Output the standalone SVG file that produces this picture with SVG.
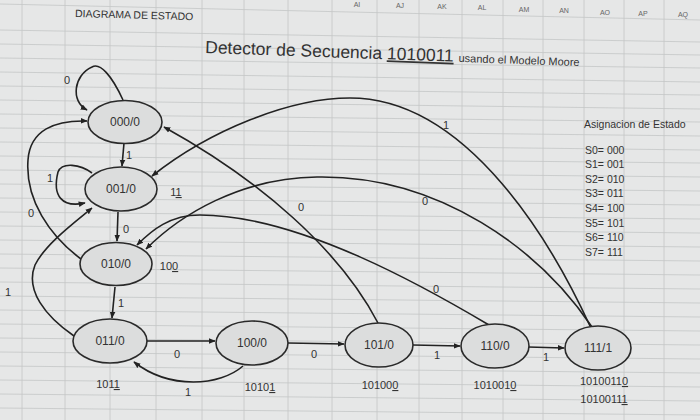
<svg xmlns="http://www.w3.org/2000/svg" width="700" height="420" viewBox="0 0 700 420">
<defs>
<marker id="arr" viewBox="0 0 10 10" refX="9" refY="5" markerWidth="7" markerHeight="7" orient="auto" markerUnits="userSpaceOnUse">
<path d="M0,1 L10,5 L0,9 Z" fill="#222"/>
</marker>
<style>
.bg{fill:#e6e7e7}
.grid line{stroke:#c4c6c6;stroke-width:0.8}
.node ellipse{fill:#dcdddd;stroke:#2a2a2a;stroke-width:1.6}
.node text{font-family:"Liberation Sans",Arial,sans-serif;font-size:12px;fill:#333;text-anchor:middle}
.edges path{fill:none;stroke:#222;stroke-width:1.6;marker-end:url(#arr)}
.lbl{font-family:"Liberation Sans",Arial,sans-serif;font-size:11px;fill:#333;text-anchor:middle}
.seq{font-family:"Liberation Sans",Arial,sans-serif;font-size:11px;fill:#333;text-anchor:middle}
.asg{font-family:"Liberation Sans",Arial,sans-serif;font-size:10.5px;fill:#333}
.hdr{font-family:"Liberation Sans",Arial,sans-serif;font-size:7px;fill:#666;text-anchor:middle}
.u{text-decoration:underline}
</style>
</defs>
<rect class="bg" width="700" height="420"/>
<g class="grid">
<line x1="22" y1="0" x2="22" y2="420"/><line x1="65" y1="0" x2="65" y2="420"/><line x1="110" y1="0" x2="110" y2="420"/><line x1="156" y1="0" x2="156" y2="420"/><line x1="202" y1="0" x2="202" y2="420"/><line x1="244" y1="0" x2="244" y2="420"/><line x1="288" y1="0" x2="288" y2="420"/><line x1="332" y1="0" x2="332" y2="420"/><line x1="377" y1="0" x2="377" y2="420"/><line x1="419" y1="0" x2="419" y2="420"/><line x1="462" y1="0" x2="462" y2="420"/><line x1="503" y1="0" x2="503" y2="420"/><line x1="543" y1="0" x2="543" y2="420"/><line x1="584" y1="0" x2="584" y2="420"/><line x1="624" y1="0" x2="624" y2="420"/><line x1="664" y1="0" x2="664" y2="420"/>
<line x1="0" y1="4" x2="700" y2="20"/><line x1="0" y1="30" x2="700" y2="42"/><line x1="0" y1="44" x2="700" y2="55"/><line x1="0" y1="58" x2="700" y2="68"/><line x1="0" y1="72" x2="700" y2="82"/><line x1="0" y1="86" x2="700" y2="95"/><line x1="0" y1="100" x2="700" y2="109"/><line x1="0" y1="114" x2="700" y2="122"/><line x1="0" y1="128" x2="700" y2="136"/><line x1="0" y1="142" x2="700" y2="150"/><line x1="0" y1="156" x2="700" y2="163"/><line x1="0" y1="170" x2="700" y2="177"/><line x1="0" y1="184" x2="700" y2="191"/><line x1="0" y1="198" x2="700" y2="205"/><line x1="0" y1="212" x2="700" y2="219"/><line x1="0" y1="226" x2="700" y2="233"/><line x1="0" y1="240" x2="700" y2="247"/><line x1="0" y1="254" x2="700" y2="261"/><line x1="0" y1="268" x2="700" y2="275"/><line x1="0" y1="282" x2="700" y2="289"/><line x1="0" y1="296" x2="700" y2="303"/><line x1="0" y1="310" x2="700" y2="317"/><line x1="0" y1="324" x2="700" y2="331"/><line x1="0" y1="338" x2="700" y2="345"/><line x1="0" y1="352" x2="700" y2="359"/><line x1="0" y1="366" x2="700" y2="373"/><line x1="0" y1="380" x2="700" y2="387"/><line x1="0" y1="394" x2="700" y2="401"/><line x1="0" y1="408" x2="700" y2="415"/>
</g>
<g id="headers">
<text class="hdr" x="357" y="7">AI</text><text class="hdr" x="400" y="8">AJ</text><text class="hdr" x="442" y="9">AK</text><text class="hdr" x="482" y="10">AL</text><text class="hdr" x="524" y="12">AM</text><text class="hdr" x="564" y="13">AN</text><text class="hdr" x="605" y="15">AO</text><text class="hdr" x="643" y="16">AP</text><text class="hdr" x="683" y="17">AQ</text>
</g>
<g id="title">
<text x="75" y="17" font-family="'Liberation Sans',Arial,sans-serif" font-size="10.5" fill="#333" transform="rotate(1.5 75 17)">DIAGRAMA DE ESTADO</text>
<text x="205" y="53" font-family="'Liberation Sans',Arial,sans-serif" font-size="17.5" fill="#333" transform="rotate(2 205 53)">Detector de Secuencia <tspan class="u">1010011</tspan> <tspan font-size="11">usando el Modelo Moore</tspan></text>
</g>
<g class="edges">
<path d="M123,100 C112,76 100,62 92,67 C74,75 70,101 87,110"/>
<path d="M124,143 L122,166"/>
<path d="M92,173 C80,164 62,162 58,172 C52,196 62,208 85,203"/>
<path d="M118,212 L117,241"/>
<path d="M81,259 C50,236 25,200 28,160 C30,130 55,120 87,121"/>
<path d="M74,336 C45,316 25,290 35,265 C45,245 70,226 92,208"/>
<path d="M115,287 L112,318"/>
<path d="M147,341 L215,341"/>
<path d="M243,366 C220,386 170,390 134,362"/>
<path d="M288,343 L344,344"/>
<path d="M413,345 L460,346"/>
<path d="M528,347 L564,348"/>
<path d="M378,323 C340,250 260,180 164,127"/>
<path d="M590,326 C555,250 470,98 350,98 C290,98 210,130 152,176"/>
<path d="M592,327 C540,250 440,175 317,177 C240,178 180,215 146,249"/>
<path d="M489,325 C430,290 300,215 200,215 C170,215 152,230 137,245"/>
</g>
<g id="edge-labels">
<text class="lbl" x="67" y="84">0</text>
<text class="lbl" x="129" y="159">1</text>
<text class="lbl" x="50" y="182">1</text>
<text class="lbl" x="126" y="233">0</text>
<text class="lbl" x="31" y="217">0</text>
<text class="lbl" x="8" y="296">1</text>
<text class="lbl" x="121" y="307">1</text>
<text class="lbl" x="177" y="358">0</text>
<text class="lbl" x="188" y="396">1</text>
<text class="lbl" x="314" y="358">0</text>
<text class="lbl" x="437" y="359">1</text>
<text class="lbl" x="546" y="361">1</text>
<text class="lbl" x="301" y="211">0</text>
<text class="lbl" x="446" y="129">1</text>
<text class="lbl" x="425" y="205">0</text>
<text class="lbl" x="436" y="293">0</text>
</g>
<g id="S0" class="node"><ellipse cx="125" cy="122" rx="37" ry="21.5"/><text x="125" y="126">000/0</text></g>
<g id="S1" class="node"><ellipse cx="121" cy="189" rx="36" ry="22"/><text x="121" y="193">001/0</text></g>
<g id="S2" class="node"><ellipse cx="116" cy="264" rx="36" ry="21.5"/><text x="116" y="268">010/0</text></g>
<g id="S3" class="node"><ellipse cx="110" cy="341" rx="37" ry="22"/><text x="110" y="345">011/0</text></g>
<g id="S4" class="node"><ellipse cx="252" cy="343" rx="36" ry="22"/><text x="252" y="347">100/0</text></g>
<g id="S5" class="node"><ellipse cx="379" cy="345" rx="34" ry="22"/><text x="379" y="349">101/0</text></g>
<g id="S6" class="node"><ellipse cx="495" cy="346" rx="34" ry="22"/><text x="495" y="350">110/0</text></g>
<g id="S7" class="node"><ellipse cx="598" cy="348" rx="33" ry="22"/><text x="598" y="352">111/1</text></g>
<g id="sequences">
<text class="seq" x="176" y="196">1<tspan class="u">1</tspan></text>
<text class="seq" x="169" y="270">10<tspan class="u">0</tspan></text>
<text class="seq" x="108" y="388">101<tspan class="u">1</tspan></text>
<text class="seq" x="260" y="391">1010<tspan class="u">1</tspan></text>
<text class="seq" x="380" y="389">10100<tspan class="u">0</tspan></text>
<text class="seq" x="495" y="389">101001<tspan class="u">0</tspan></text>
<text class="seq" x="604" y="385">1010011<tspan class="u">0</tspan></text>
<text class="seq" x="604" y="403">1010011<tspan class="u">1</tspan></text>
</g>
<g id="asignacion">
<text class="asg" x="584" y="128">Asignacion de Estado</text>
<text class="asg" x="585" y="154">S0= 000</text>
<text class="asg" x="585" y="168">S1= 001</text>
<text class="asg" x="585" y="183">S2= 010</text>
<text class="asg" x="585" y="197">S3= 011</text>
<text class="asg" x="585" y="212">S4= 100</text>
<text class="asg" x="585" y="227">S5= 101</text>
<text class="asg" x="585" y="241">S6= 110</text>
<text class="asg" x="585" y="256">S7= 111</text>
</g>
</svg>
